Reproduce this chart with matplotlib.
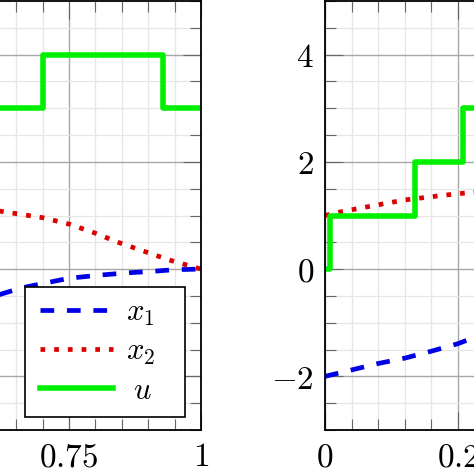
import matplotlib
matplotlib.use('Agg')
import matplotlib.pyplot as plt
from matplotlib.patches import Rectangle
from matplotlib.ticker import MultipleLocator, FuncFormatter

plt.rcParams['mathtext.fontset'] = 'cm'
plt.rcParams['font.family'] = 'serif'

# left panel (only right part visible)
t_left = [0.60, 0.62, 0.66, 0.70, 0.75, 0.81, 0.86, 0.91, 0.95, 1.0]
x1_left = [-0.52, -0.47, -0.35, -0.27, -0.17, -0.11, -0.07, -0.04, -0.01, 0.0]
t2_left = [0.60, 0.62, 0.70, 0.75, 0.80, 0.84, 0.89, 0.94, 1.0]
x2_left = [1.12, 1.08, 0.96, 0.84, 0.67, 0.51, 0.34, 0.17, 0.0]
tu_left = [0.60, 0.70, 0.928, 1.0]
u_left = [3, 4, 3, 3]

# right panel (only left part visible)
t1_right = [0.0, 0.04, 0.08, 0.12, 0.16, 0.20, 0.24]
x1_right = [-2.0, -1.88, -1.76, -1.66, -1.53, -1.39, -1.20]
t2_right = [0.0, 0.02, 0.08, 0.12, 0.18, 0.22, 0.24]
x2_right = [1.0, 1.06, 1.20, 1.29, 1.38, 1.43, 1.45]
tu_right = [0.0, 0.007, 0.135, 0.207, 0.25]
u_right = [0, 1, 2, 3, 3]

blue, red, green = '#0000e6', '#dd0000', '#00f000'
fs = 24

fig = plt.figure(figsize=(4.74, 4.74), dpi=100)
W = H = 474.0
# axes placed partly outside the canvas to mimic the crop
ax1 = fig.add_axes([(201 - 528) / W, 44 / H, 528 / W, 429 / H])
ax2 = fig.add_axes([325 / W, 44 / H, 532 / W, 429 / H])


def make_fmt(lo, hi):
    # only label ticks that fall inside the visible crop
    return FuncFormatter(lambda v, p: '$%g$' % v if lo <= v <= hi else '')


for ax, xmaj, xmin, xmax, xvis in [(ax1, 0.25, 0.05, 1.0, (0.7, 1.0)),
                                   (ax2, 0.2, 0.04, 0.8, (0.0, 0.2))]:
    ax.set_xlim(0, xmax)
    ax.set_ylim(-3, 5)
    ax.xaxis.set_major_locator(MultipleLocator(xmaj))
    ax.xaxis.set_minor_locator(MultipleLocator(xmin))
    ax.yaxis.set_major_locator(MultipleLocator(2))
    ax.yaxis.set_minor_locator(MultipleLocator(0.5))
    ax.xaxis.set_major_formatter(make_fmt(*xvis))
    ax.yaxis.set_major_formatter(FuncFormatter(lambda v, p: '$%g$' % v))
    ax.grid(which='major', color='#a8a8a8', lw=1.0, zorder=0)
    ax.grid(which='minor', color='#e6e6e6', lw=0.9, zorder=0)
    ax.set_axisbelow(True)
    ax.tick_params(which='both', direction='in', top=True, right=True,
                   color='#666666', width=0.8, labelsize=fs, pad=8)
    ax.tick_params(which='major', length=13)
    ax.tick_params(which='minor', length=8)
    for s in ax.spines.values():
        s.set_linewidth(1.3)

ax1.tick_params(labelleft=False)

ax1.plot(t_left, x1_left, color=blue, lw=3.4, dashes=(2.9, 2.7), label='$x_1$')
ax1.plot(t2_left, x2_left, color=red, lw=3.4, dashes=(1, 1.9), label='$x_2$')
ax1.plot(tu_left, u_left, color=green, lw=4, drawstyle='steps-post', label='$\\;u$')

ax2.plot(t1_right, x1_right, color=blue, lw=3.4, dashes=(2.9, 2.7))
ax2.plot(t2_right, x2_right, color=red, lw=3.4, dashes=(1, 1.9))
ax2.plot(tu_right, u_right, color=green, lw=4, drawstyle='steps-post')

# legend frame drawn separately so its padding matches the reference
frame = Rectangle((25 / W, 57 / H), 160 / W, 130 / H, transform=fig.transFigure,
                  facecolor='white', edgecolor='black', lw=1.2, zorder=4.9,
                  clip_on=False)
ax1.add_patch(frame)

leg = ax1.legend(loc='upper left', bbox_to_anchor=(40 / W, (474 - 297) / H),
                 bbox_transform=fig.transFigure, fontsize=22, frameon=False,
                 borderaxespad=0, borderpad=0, handlelength=2.4,
                 handletextpad=0.4, labelspacing=0.25)
leg.set_zorder(5)

plt.savefig('out.png', dpi=100)
